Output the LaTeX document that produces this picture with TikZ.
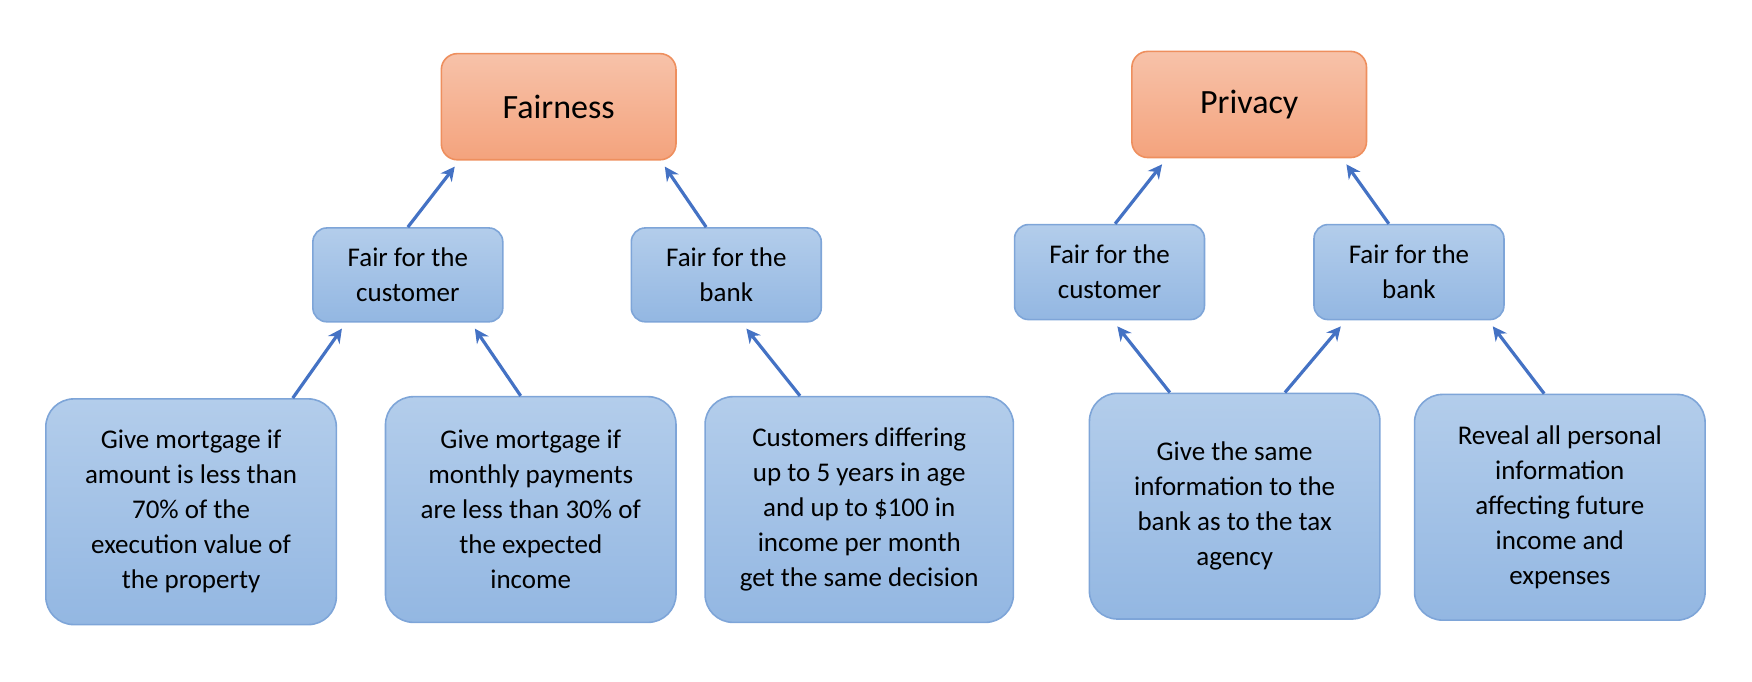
\documentclass[tikz,border=0pt]{standalone}
\usepackage{fontspec}
\setmainfont{Carlito}
\usetikzlibrary{arrows.meta}
\definecolor{bt}{HTML}{B3CDEB}\definecolor{bb}{HTML}{93B7E2}\definecolor{bd}{HTML}{7EA5D8}
\definecolor{ot}{HTML}{F7C2A9}\definecolor{ob}{HTML}{F4A37D}\definecolor{od}{HTML}{EE8F5E}
\definecolor{ar}{HTML}{4472C4}
\begin{document}
\begin{tikzpicture}[x=0.5588pt,y=-0.5588pt,
 box/.style={draw=bd,line width=0.8pt,top color=bt,bottom color=bb,align=center,inner sep=0pt,font=\fontsize{13.5}{17.5}\selectfont},
 leaf/.style={box,rounded corners=14pt},
 mid/.style={box,rounded corners=7pt},
 top/.style={draw=od,line width=0.8pt,top color=ot,bottom color=ob,rounded corners=8pt,font=\fontsize{17}{20}\selectfont},
 arr/.style={draw=ar,line width=1.6pt,-{Stealth[length=7pt,width=7pt]}}]
\useasboundingbox (0,0) rectangle (1568,610);
\newcommand\bx[6]{\node[#1,minimum width={(#4-#3)*0.5588pt},minimum height={(#6-#5)*0.5588pt}] (#2) at ({(#3+#4)/2},{(#5+#6)/2})}
\bx{top}{F}{395}{605}{48}{143} {Fairness};
\bx{top}{P}{1013}{1223}{46}{141} {Privacy};
\bx{mid}{FC1}{280}{450}{204}{288} {Fair for the\\customer};
\bx{mid}{FB1}{565}{735}{204}{288} {Fair for the\\bank};
\bx{mid}{FC2}{908}{1078}{201}{286} {Fair for the\\customer};
\bx{mid}{FB2}{1176}{1346}{201}{286} {Fair for the\\bank};
\bx{leaf}{L1}{41}{301}{357}{559} {Give mortgage if\\amount is less than\\70\% of the\\execution value of\\the property};
\bx{leaf}{L2}{345}{605}{355}{557} {Give mortgage if\\monthly payments\\are less than 30\% of\\the expected\\income};
\bx{leaf}{L3}{631}{907}{355}{557} {Customers differing\\up to 5 years in age\\and up to \$100 in\\income per month\\get the same decision};
\bx{leaf}{P1}{975}{1235}{352}{554} {Give the same\\information to the\\bank as to the tax\\agency};
\bx{leaf}{P2}{1266}{1526}{353}{555} {Reveal all personal\\information\\affecting future\\income and\\expenses};
\path[arr] ([xshift={(365-365)*0.5588pt}]FC1.north) -- ([xshift={(407-500)*0.5588pt},yshift=-3pt]F.south);
\path[arr] ([xshift={(632-650)*0.5588pt}]FB1.north) -- ([xshift={(595-500)*0.5588pt},yshift=-3pt]F.south);
\path[arr] ([xshift={(262-171)*0.5588pt}]L1.north) -- ([xshift={(306-365)*0.5588pt},yshift=-3pt]FC1.south);
\path[arr] ([xshift={(466-475)*0.5588pt}]L2.north) -- ([xshift={(425-365)*0.5588pt},yshift=-3pt]FC1.south);
\path[arr] ([xshift={(716-769)*0.5588pt}]L3.north) -- ([xshift={(668-650)*0.5588pt},yshift=-3pt]FB1.south);
\path[arr] ([xshift={(998-993)*0.5588pt}]FC2.north) -- ([xshift={(1040-1118)*0.5588pt},yshift=-3pt]P.south);
\path[arr] ([xshift={(1243-1261)*0.5588pt}]FB2.north) -- ([xshift={(1205-1118)*0.5588pt},yshift=-3pt]P.south);
\path[arr] ([xshift={(1047-1105)*0.5588pt}]P1.north) -- ([xshift={(1000-993)*0.5588pt},yshift=-3pt]FC2.south);
\path[arr] ([xshift={(1150-1105)*0.5588pt}]P1.north) -- ([xshift={(1200-1261)*0.5588pt},yshift=-3pt]FB2.south);
\path[arr] ([xshift={(1382-1396)*0.5588pt}]P2.north) -- ([xshift={(1336-1261)*0.5588pt},yshift=-3pt]FB2.south);
\end{tikzpicture}
\end{document}
